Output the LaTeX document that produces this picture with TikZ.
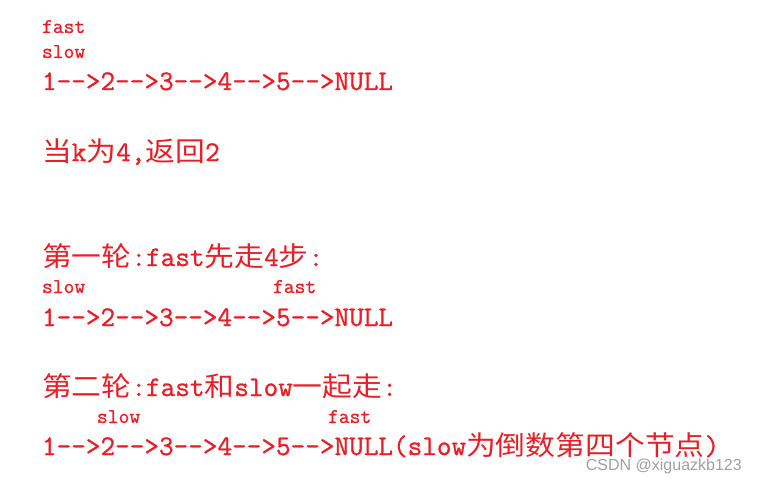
\documentclass[tikz,border=0pt]{standalone}
\usepackage{fontspec}
\newfontfamily\latinfont[FakeBold=1]{Latin Modern Mono}
\newfontfamily\cjkfont[FakeStretch=1.1]{Noto Sans CJK SC}
\newfontfamily\wmfont{Liberation Sans}
\definecolor{txtred}{RGB}{232,30,40}
\definecolor{wmgray}{RGB}{160,160,160}
\newcommand\Lb{\latinfont\fontsize{28.4}{30}\selectfont}
\newcommand\Ls{\latinfont\fontsize{21}{24}\selectfont}
\newcommand\Cb{\cjkfont\fontsize{27.1}{30}\selectfont}
\begin{document}
\begin{tikzpicture}[x=1pt,y=-1pt,
  txt/.style={anchor=base west,inner sep=0pt,outer sep=0pt,text=txtred},
  wm/.style={anchor=base east,inner sep=0pt,text=wmgray,font=\wmfont\fontsize{16}{18}\selectfont}]
\useasboundingbox[fill=white] (0,0) rectangle (757,484);
% block 1
\node[txt] (f1) at (42,33) {\Ls fast};
\node[txt] (s1) at (42,58) {\Ls slow};
\node[txt] (l1) at (42,90) {\Lb 1-->2-->3-->4-->5-->NULL};
\node[txt] (k) at (42,161) {\Cb 当\Lb k\Cb 为\Lb 4,\Cb 返回\Lb 2};
% block 2
\node[txt] (h2) at (42,266) {\Cb 第一轮\Lb :fast\Cb 先走\Lb 4\Cb 步\Lb :};
\node[txt] (s2) at (42,293) {\Ls slow};
\node[txt] (f2) at (273,293) {\Ls fast};
\node[txt] (l2) at (42,326) {\Lb 1-->2-->3-->4-->5-->NULL};
% block 3
\node[txt] (h3) at (42,396) {\Cb 第二轮\Lb :fast\Cb 和\Lb slow\Cb 一起走\Lb :};
\node[txt] (s3) at (97,423) {\Ls slow};
\node[txt] (f3) at (328,423) {\Ls fast};
\node[txt] (l3) at (42,455) {\Lb 1-->2-->3-->4-->5-->NULL(slow\Cb 为倒数第四个节点\Lb )};
% watermark
\node[wm] (w) at (742,470) {CSDN @xiguazkb123};
\end{tikzpicture}
\end{document}
